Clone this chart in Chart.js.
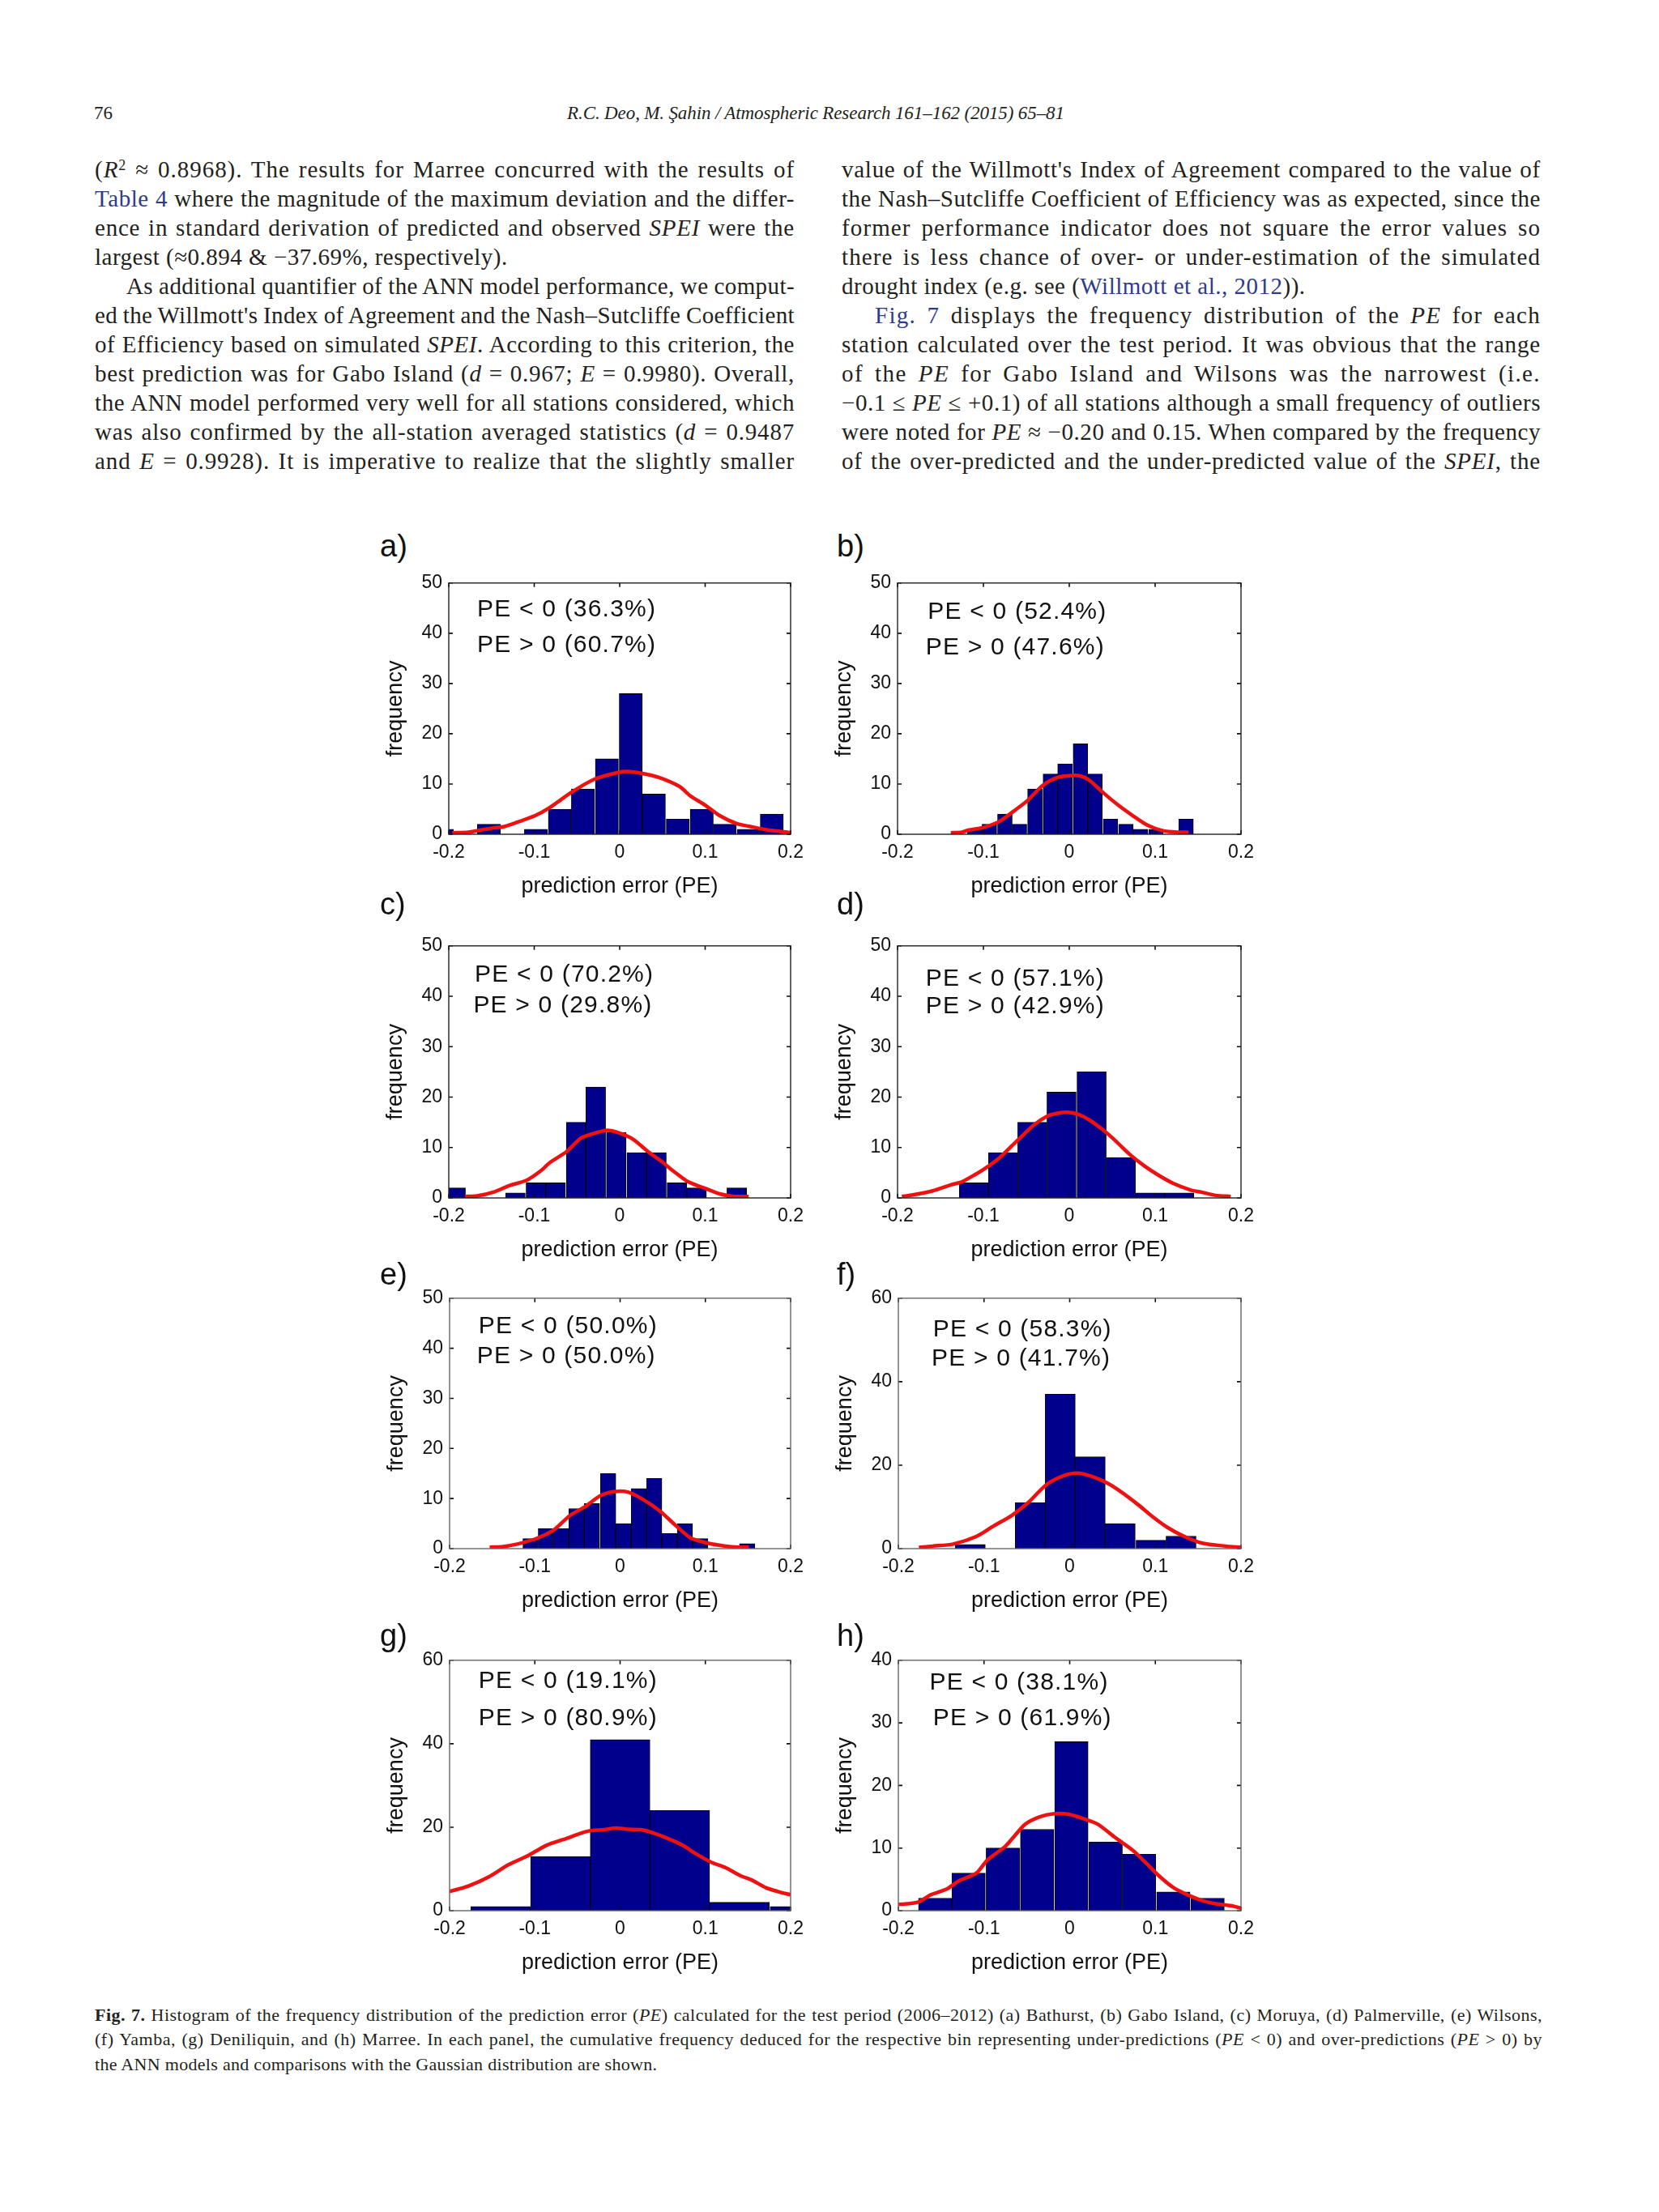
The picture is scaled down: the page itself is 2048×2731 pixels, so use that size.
<!DOCTYPE html>
<html>
<head>
<meta charset="utf-8">
<script src="https://cdn.jsdelivr.net/npm/chart.js@4.4.1/dist/chart.umd.min.js"></script>
<style>
  html, body { margin: 0; padding: 0; background: #fff; }
  #page { position: relative; width: 2048px; height: 2731px; overflow: hidden; background: #fff; color: #231f20; font-family: "Liberation Serif", "Times New Roman", serif; }
  .txt { position: absolute; white-space: nowrap; }
  .ln { color: #2e3a8c; }
  sup { font-size: 0.62em; line-height: 0; vertical-align: 0.5em; }
  .tag { position: absolute; font-family: "Liberation Sans", Arial, sans-serif; font-size: 38px; line-height: 38px; color: #111; }
  canvas { position: absolute; }
</style>
</head>
<body>
<div id="page"></div>
<script>
// ---- data ----
const xTickValues = [-0.2, -0.1, 0, 0.1, 0.2];
const xTickLabels = ['-0.2', '-0.1', '0', '0.1', '0.2'];
const yTicks50 = [0, 10, 20, 30, 40, 50];
const yTicks60 = [0, 20, 40, 60];
const yTicks40 = [0, 10, 20, 30, 40];

// (a) Bathurst
const binsA = [-0.208, -0.181, -0.153, -0.125, -0.098, -0.070, -0.043, -0.015, 0.013, 0.040, 0.068, 0.096, 0.123, 0.151, 0.178];
const countsA = [1, 0, 2, 0, 1, 5, 9, 15, 28, 8, 3, 5, 2, 1, 4];
const fitXA = [-0.196, -0.177, -0.167, -0.147, -0.136, -0.120, -0.099, -0.082, -0.056, -0.029, -0.002, 0.009, 0.027, 0.046, 0.070, 0.083, 0.100, 0.117, 0.137, 0.151, 0.175, 0.192, 0.200];
const fitYA = [0.3, 0.4, 0.7, 1.3, 1.5, 2.4, 3.7, 5.3, 8.4, 11.0, 12.3, 12.5, 12.1, 11.3, 9.5, 7.6, 5.8, 3.7, 2.1, 1.6, 0.8, 0.5, 0.3];
const notesA = ['PE < 0 (36.3%)', 'PE > 0 (60.7%)'];

// (b) Gabo Island
const binsB = [-0.110, -0.093, -0.075, -0.058, -0.040, -0.022, -0.005, 0.013, 0.030, 0.048, 0.066, 0.083, 0.101, 0.118, 0.136];
const countsB = [1, 2, 4, 2, 9, 12, 14, 18, 12, 3, 2, 1, 1, 0, 3];
const fitXB = [-0.138, -0.125, -0.118, -0.101, -0.081, -0.064, -0.048, -0.031, -0.014, 0.003, 0.013, 0.023, 0.040, 0.057, 0.074, 0.091, 0.109, 0.128, 0.139];
const fitYB = [0.3, 0.4, 0.8, 1.3, 2.6, 4.7, 6.8, 9.7, 11.3, 11.7, 11.6, 10.8, 8.2, 5.8, 3.7, 1.8, 0.7, 0.4, 0.4];
const notesB = ['PE < 0 (52.4%)', 'PE > 0 (47.6%)'];

// (c) Moruya
const binsC = [-0.192, -0.169, -0.145, -0.122, -0.098, -0.075, -0.051, -0.028, -0.004, 0.020, 0.043, 0.067, 0.090, 0.114, 0.137];
const countsC = [2, 0, 0, 1, 3, 3, 15, 22, 13, 9, 9, 3, 2, 0, 2];
const fitXC = [-0.181, -0.167, -0.147, -0.130, -0.109, -0.093, -0.081, -0.062, -0.045, -0.028, -0.015, -0.001, 0.016, 0.033, 0.050, 0.063, 0.080, 0.100, 0.117, 0.134, 0.151];
const fitYC = [0.3, 0.4, 1.2, 2.4, 3.5, 5.3, 7.1, 9.2, 11.9, 12.9, 13.4, 12.9, 11.6, 9.2, 7.1, 5.3, 3.2, 1.9, 0.8, 0.3, 0.3];
const notesC = ['PE < 0 (70.2%)', 'PE > 0 (29.8%)'];

// (d) Palmerville
const binsD = [-0.111, -0.077, -0.043, -0.009, 0.026, 0.060, 0.094, 0.128];
const countsD = [3, 9, 15, 21, 25, 8, 1, 1];
const fitXD = [-0.195, -0.182, -0.159, -0.138, -0.125, -0.111, -0.096, -0.081, -0.061, -0.041, -0.026, -0.014, -0.002, 0.010, 0.023, 0.040, 0.054, 0.070, 0.087, 0.104, 0.121, 0.141, 0.155, 0.171, 0.188];
const fitYD = [0.3, 0.6, 1.4, 2.6, 3.2, 4.5, 6.1, 8.0, 11.3, 14.5, 16.2, 16.8, 17.0, 16.6, 15.5, 13.4, 11.3, 8.7, 6.4, 4.5, 2.9, 1.6, 1.1, 0.5, 0.3];
const notesD = ['PE < 0 (57.1%)', 'PE > 0 (42.9%)'];

// (e) Wilsons
const binsE = [-0.105, -0.087, -0.069, -0.051, -0.033, -0.014, 0.004, 0.022, 0.040, 0.058, 0.076, 0.094, 0.113, 0.131, 0.149];
const countsE = [2, 4, 4, 8, 9, 15, 5, 12, 14, 3, 5, 2, 0, 0, 1];
const fitXE = [-0.153, -0.137, -0.114, -0.097, -0.078, -0.059, -0.041, -0.023, -0.006, 0.009, 0.025, 0.046, 0.066, 0.083, 0.103, 0.124, 0.139, 0.151];
const fitYE = [0.3, 0.4, 1.2, 2.1, 3.7, 6.6, 8.4, 10.6, 11.4, 11.3, 10.0, 7.6, 4.5, 2.1, 1.1, 0.5, 0.3, 0.3];
const notesE = ['PE < 0 (50.0%)', 'PE > 0 (50.0%)'];

// (f) Yamba
const binsF = [-0.116, -0.081, -0.046, -0.011, 0.024, 0.059, 0.095, 0.130];
const countsF = [1, 0, 11, 37, 22, 6, 2, 3];
const fitXF = [-0.176, -0.160, -0.136, -0.109, -0.089, -0.068, -0.048, -0.028, -0.008, 0.009, 0.026, 0.043, 0.060, 0.080, 0.097, 0.114, 0.134, 0.155, 0.182, 0.200];
const fitYF = [0.3, 0.6, 1.1, 2.9, 5.4, 7.9, 11.1, 15.2, 17.4, 18.1, 17.3, 15.8, 13.6, 10.5, 7.6, 5.1, 2.9, 1.3, 0.6, 0.3];
const notesF = ['PE < 0 (58.3%)', 'PE > 0 (41.7%)'];

// (g) Deniliquin
const binsG = [-0.140, -0.070, 0.000, 0.070, 0.140, 0.211];
const countsG = [1, 13, 41, 24, 2, 1];
const fitXG = [-0.200, -0.178, -0.154, -0.131, -0.107, -0.086, -0.063, -0.039, -0.019, -0.005, 0.009, 0.025, 0.039, 0.056, 0.073, 0.090, 0.107, 0.124, 0.141, 0.154, 0.171, 0.185, 0.200];
const fitYG = [4.6, 5.9, 8.1, 11.0, 13.3, 15.7, 17.3, 19.0, 19.4, 19.8, 19.5, 19.4, 18.6, 17.3, 15.7, 13.5, 11.6, 10.3, 8.4, 7.4, 5.5, 4.6, 3.8];
const notesG = ['PE < 0 (19.1%)', 'PE > 0 (80.9%)'];

// (h) Marree
const binsH = [-0.157, -0.118, -0.078, -0.038, 0.002, 0.042, 0.081, 0.121, 0.161];
const countsH = [2, 6, 10, 13, 27, 11, 9, 3, 2];
const fitXH = [-0.200, -0.190, -0.176, -0.163, -0.143, -0.129, -0.109, -0.096, -0.075, -0.052, -0.035, -0.018, -0.001, 0.016, 0.033, 0.053, 0.074, 0.087, 0.104, 0.121, 0.138, 0.155, 0.171, 0.188, 0.200];
const fitYH = [1.0, 1.1, 1.4, 2.5, 3.5, 4.8, 6.0, 8.1, 10.3, 13.8, 15.0, 15.5, 15.4, 14.7, 13.8, 11.7, 9.6, 7.9, 5.6, 3.7, 2.5, 1.6, 1.1, 0.8, 0.4];
const notesH = ['PE < 0 (38.1%)', 'PE > 0 (61.9%)'];

// ---- page layout ----
const page = document.getElementById('page');

const panels = [
  { tag: 'a)', bins: binsA, counts: countsA, fitX: fitXA, fitY: fitYA, yTicks: yTicks50, notes: notesA, box: [554, 713, 422, 317], tagAt: [469, 687], pos: [[0.083, 0.106], [0.083, 0.247]], boxColor: '#222' },
  { tag: 'b)', bins: binsB, counts: countsB, fitX: fitXB, fitY: fitYB, yTicks: yTicks50, notes: notesB, box: [1108, 713, 424, 317], tagAt: [1033, 687], pos: [[0.088, 0.116], [0.082, 0.258]], boxColor: '#222' },
  { tag: 'c)', bins: binsC, counts: countsC, fitX: fitXC, fitY: fitYC, yTicks: yTicks50, notes: notesC, box: [554, 1161, 422, 318], tagAt: [469, 1129], pos: [[0.076, 0.116], [0.072, 0.237]], boxColor: '#222' },
  { tag: 'd)', bins: binsD, counts: countsD, fitX: fitXD, fitY: fitYD, yTicks: yTicks50, notes: notesD, box: [1108, 1161, 424, 318], tagAt: [1033, 1129], pos: [[0.082, 0.130], [0.082, 0.242]], boxColor: '#222' },
  { tag: 'e)', bins: binsE, counts: countsE, fitX: fitXE, fitY: fitYE, yTicks: yTicks50, notes: notesE, box: [555, 1596, 421, 316], tagAt: [469, 1586], pos: [[0.085, 0.112], [0.080, 0.233]], boxColor: '#666' },
  { tag: 'f)', bins: binsF, counts: countsF, fitX: fitXF, fitY: fitYF, yTicks: yTicks60, notes: notesF, box: [1109, 1596, 423, 316], tagAt: [1033, 1586], pos: [[0.101, 0.127], [0.097, 0.241]], boxColor: '#666' },
  { tag: 'g)', bins: binsG, counts: countsG, fitX: fitXG, fitY: fitYG, yTicks: yTicks60, notes: notesG, box: [555, 2043, 421, 316], tagAt: [469, 2032], pos: [[0.085, 0.085], [0.085, 0.233]], boxColor: '#666' },
  { tag: 'h)', bins: binsH, counts: countsH, fitX: fitXH, fitY: fitYH, yTicks: yTicks40, notes: notesH, box: [1109, 2043, 423, 316], tagAt: [1033, 2032], pos: [[0.091, 0.091], [0.101, 0.233]], boxColor: '#666' }
];

// text line placed by baseline; justified lines share the slack between letters and word gaps
function addLine(html, x, baseline, width, fs, lh, justify, indent, baseLs) {
  indent = indent || 0;
  const el = document.createElement('div');
  el.className = 'txt';
  el.innerHTML = html;
  el.style.fontSize = fs + 'px';
  el.style.lineHeight = lh + 'px';
  el.style.letterSpacing = baseLs + 'px';
  page.appendChild(el);
  const asc = (lh - 1.107 * fs) / 2 + 0.891 * fs;
  el.style.left = (x + indent) + 'px';
  el.style.top = (baseline - asc) + 'px';
  if (justify) {
    const target = width - indent;
    const chars = el.textContent.length;
    let w = el.getBoundingClientRect().width;
    let ls = baseLs + Math.max(-0.4, Math.min(0.9, (target - w) * 0.5 / chars));
    el.style.letterSpacing = ls + 'px';
    w = el.getBoundingClientRect().width;
    const n = (el.textContent.match(/ /g) || []).length;
    if (n) el.style.wordSpacing = ((target - w) / n) + 'px';
  }
  return el;
}

// header
addLine('76', 116, 148, 0, 23, 30, false, 0, 0);
addLine('<i>R.C. Deo, M. Şahin / Atmospheric Research 161–162 (2015) 65–81</i>', 700, 148, 614, 23, 30, true, 0, 0);

const leftLines = [
  ['(<i>R</i><sup>2</sup> ≈ 0.8968). The results for Marree concurred with the results of', 1, 0],
  ['<span class="ln">Table 4</span> where the magnitude of the maximum deviation and the differ-', 1, 0],
  ['ence in standard derivation of predicted and observed <i>SPEI</i> were the', 1, 0],
  ['largest (≈0.894 &amp; −37.69%, respectively).', 0, 0],
  ['As additional quantifier of the ANN model performance, we comput-', 1, 39],
  ['ed the Willmott\'s Index of Agreement and the Nash–Sutcliffe Coefficient', 1, 0],
  ['of Efficiency based on simulated <i>SPEI</i>. According to this criterion, the', 1, 0],
  ['best prediction was for Gabo Island (<i>d</i> = 0.967; <i>E</i> = 0.9980). Overall,', 1, 0],
  ['the ANN model performed very well for all stations considered, which', 1, 0],
  ['was also confirmed by the all-station averaged statistics (<i>d</i> = 0.9487', 1, 0],
  ['and <i>E</i> = 0.9928). It is imperative to realize that the slightly smaller', 1, 0]
];
const rightLines = [
  ['value of the Willmott\'s Index of Agreement compared to the value of', 1, 0],
  ['the Nash–Sutcliffe Coefficient of Efficiency was as expected, since the', 1, 0],
  ['former performance indicator does not square the error values so', 1, 0],
  ['there is less chance of over- or under-estimation of the simulated', 1, 0],
  ['drought index (e.g. see (<span class="ln">Willmott et al., 2012</span>)).', 0, 0],
  ['<span class="ln">Fig. 7</span> displays the frequency distribution of the <i>PE</i> for each', 1, 41],
  ['station calculated over the test period. It was obvious that the range', 1, 0],
  ['of the <i>PE</i> for Gabo Island and Wilsons was the narrowest (i.e.', 1, 0],
  ['−0.1 ≤ <i>PE</i> ≤ +0.1) of all stations although a small frequency of outliers', 1, 0],
  ['were noted for <i>PE</i> ≈ −0.20 and 0.15. When compared by the frequency', 1, 0],
  ['of the over-predicted and the under-predicted value of the <i>SPEI</i>, the', 1, 0]
];
leftLines.forEach((l, i) => addLine(l[0], 117, 219 + 36 * i, 864, 29, 36, l[1], l[2], 0.5));
rightLines.forEach((l, i) => addLine(l[0], 1039, 219 + 36 * i, 863, 29, 36, l[1], l[2], 0.5));

const captionLines = [
  ['<b>Fig. 7.</b> Histogram of the frequency distribution of the prediction error (<i>PE</i>) calculated for the test period (2006–2012) (a) Bathurst, (b) Gabo Island, (c) Moruya, (d) Palmerville, (e) Wilsons,', 1],
  ['(f) Yamba, (g) Deniliquin, and (h) Marree. In each panel, the cumulative frequency deduced for the respective bin representing under-predictions (<i>PE</i> &lt; 0) and over-predictions (<i>PE</i> &gt; 0) by', 1],
  ['the ANN models and comparisons with the Gaussian distribution are shown.', 0]
];
captionLines.forEach((l, i) => addLine(l[0], 117, 2495 + 30.5 * i, 1787, 22, 30, l[1], 0, 0.3));

// ---- charts ----
Chart.defaults.font.family = '"Liberation Sans", Arial, sans-serif';
Chart.defaults.color = '#111';

// axis box, inward tick marks and the PE share notes
const frame = {
  id: 'frame',
  afterDatasetsDraw(chart, args, opts) {
    const { ctx, chartArea: a, scales: { x, y } } = chart;
    ctx.save();
    ctx.strokeStyle = '#111';
    ctx.lineWidth = 1.6;
    ctx.beginPath();
    x.ticks.forEach((t, i) => {
      const px = x.getPixelForTick(i);
      ctx.moveTo(px, a.bottom); ctx.lineTo(px, a.bottom - 5);
      ctx.moveTo(px, a.top); ctx.lineTo(px, a.top + 5);
    });
    y.ticks.forEach((t, i) => {
      const py = y.getPixelForTick(i);
      ctx.moveTo(a.left, py); ctx.lineTo(a.left + 5, py);
      ctx.moveTo(a.right, py); ctx.lineTo(a.right - 5, py);
    });
    ctx.stroke();
    ctx.strokeStyle = opts.boxColor;
    ctx.lineWidth = 1.4;
    ctx.strokeRect(a.left, a.top, a.width, a.height);

    ctx.fillStyle = '#111';
    ctx.font = '30px "Liberation Sans", Arial, sans-serif';
    ctx.letterSpacing = '1.2px';
    ctx.textBaseline = 'middle';
    ctx.textAlign = 'left';
    opts.notes.forEach((txt, i) => {
      const p = opts.pos[i];
      ctx.fillText(txt, a.left + p[0] * a.width, a.top + p[1] * a.height);
    });
    ctx.restore();
  }
};

function makeChart(p) {
  const [L, T, W, H] = p.box;
  const padL = 100, padT = 15, padR = 30, padB = 95;

  const tag = document.createElement('div');
  tag.className = 'tag';
  tag.textContent = p.tag;
  tag.style.left = p.tagAt[0] + 'px';
  tag.style.top = (p.tagAt[1] - 32) + 'px';
  page.appendChild(tag);

  const cv = document.createElement('canvas');
  cv.width = W + padL + padR;
  cv.height = H + padT + padB;
  cv.style.left = (L - padL) + 'px';
  cv.style.top = (T - padT) + 'px';
  cv.style.width = cv.width + 'px';
  cv.style.height = cv.height + 'px';
  page.appendChild(cv);

  new Chart(cv.getContext('2d'), {
    type: 'bar',
    data: {
      datasets: [
        {
          type: 'line',
          data: p.fitX.map((x, i) => ({ x: x, y: p.fitY[i] })),
          borderColor: '#ee1111',
          borderWidth: 4.5,
          pointRadius: 0,
          tension: 0.25,
          order: 0,
          clip: 0
        },
        {
          type: 'bar',
          data: p.bins.map((x, i) => ({ x: x, y: p.counts[i] })),
          backgroundColor: '#00008c',
          borderColor: '#000',
          borderWidth: 1,
          barPercentage: 1,
          categoryPercentage: 1,
          order: 1,
          clip: 0
        }
      ]
    },
    options: {
      responsive: false,
      animation: false,
      devicePixelRatio: 1,
      layout: { padding: { top: padT, right: padR, left: 0, bottom: 0 } },
      plugins: {
        legend: { display: false },
        tooltip: { enabled: false },
        frame: { notes: p.notes, pos: p.pos, boxColor: p.boxColor }
      },
      scales: {
        x: {
          type: 'linear',
          offset: false,
          min: -0.2,
          max: 0.2,
          grid: { display: false, drawTicks: false },
          border: { display: false },
          afterBuildTicks: s => { s.ticks = xTickValues.map(v => ({ value: v })); },
          afterFit: s => { s.height = padB; },
          ticks: { padding: 9, font: { size: 23 }, maxRotation: 0, autoSkip: false, callback: (v, i) => xTickLabels[i] },
          title: { display: true, text: 'prediction error (PE)', font: { size: 27 }, padding: { top: 0, bottom: 14 } }
        },
        y: {
          min: 0,
          max: p.yTicks[p.yTicks.length - 1],
          grid: { display: false, drawTicks: false },
          border: { display: false },
          afterBuildTicks: s => { s.ticks = p.yTicks.map(v => ({ value: v })); },
          afterFit: s => { s.width = padL; },
          ticks: { padding: 8, font: { size: 23 }, callback: v => String(v) },
          title: { display: true, text: 'frequency', font: { size: 27 }, padding: { top: 18, bottom: 0 } }
        }
      }
    },
    plugins: [frame]
  });
}

panels.forEach(makeChart);
</script>
</body>
</html>
